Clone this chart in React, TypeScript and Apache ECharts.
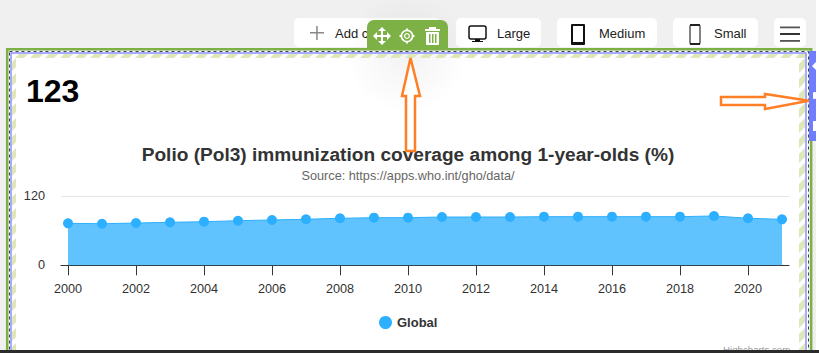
import React, { useEffect, useRef } from "react";
import * as echarts from "echarts";

const years = [2000, 2001, 2002, 2003, 2004, 2005, 2006, 2007, 2008, 2009, 2010, 2011, 2012, 2013, 2014, 2015, 2016, 2017, 2018, 2019, 2020, 2021];
const coverage = [72.7, 72, 73.2, 74.4, 75.5, 77.2, 78.5, 79.7, 81.4, 82.5, 82.5, 83.6, 83.6, 83.6, 84.2, 84.2, 84.2, 84.2, 84.2, 85.4, 81.4, 79.6];
const xTicks = [2000, 2002, 2004, 2006, 2008, 2010, 2012, 2014, 2016, 2018, 2020];
const seriesName = "Global";
const chartTitle = "Polio (Pol3) immunization coverage among 1-year-olds (%)";
const chartSubtitle = "Source: https://apps.who.int/gho/data/";
const FONT = '"Liberation Sans", Arial, sans-serif';

const rect = (x: number, y: number, width: number, height: number, fill: string, r = 0 as any, z = 1) => ({
  type: "rect", shape: { x, y, width, height, r }, style: { fill }, z, silent: true,
});
const frame = (x: number, y: number, width: number, height: number, stroke: string, lineWidth: number, lineDash?: number[], z = 2) => ({
  type: "rect", shape: { x, y, width, height }, style: { fill: "none", stroke, lineWidth, lineDash }, z, silent: true,
});
const poly = (points: number[][], fill: string, z = 5, stroke?: string, lineWidth = 0) => ({
  type: "polygon", shape: { points }, style: { fill, stroke, lineWidth }, z, silent: true,
});
const label = (text: string, x: number, y: number, fontSize: number, fill: string, fontWeight = "normal", z = 4) => ({
  type: "text", x, y, z, silent: true,
  style: { text, fontSize, fill, fontWeight, fontFamily: FONT, textVerticalAlign: "middle", textBaseline: "middle" },
});

function hatch() {
  const out: any[] = [];
  const colour = "#dde7b8";
  for (let x = 15; x < 800; x += 15) out.push(poly([[x, 58], [x + 4, 54], [x + 13, 54], [x + 9, 58]], colour, 2));
  for (let y = 58; y < 350; y += 15) {
    out.push(poly([[12, y + 4], [16, y], [16, y + 9], [12, y + 13]], colour, 2));
    out.push(poly([[799, y + 6], [805, y], [805, y + 9], [799, y + 15]], colour, 2));
  }
  return out;
}

function chrome() {
  const white = "#ffffff";
  const green = "#7db146";
  const purple = "#6f7dff";
  const orange = "#ff7f27";
  const dark = "#111111";
  const items: any[] = [
    rect(0, 0, 819, 353, "#f0f0f0", 0, 0),
    rect(294, 18, 146, 29, white, 5),
    rect(456, 18, 85, 29, white, 5),
    rect(557, 18, 100, 29, white, 5),
    rect(673, 18, 85, 29, white, 5),
    rect(774, 18, 32, 29, white, 5),
    rect(310, 32, 14, 1.5, "#888888", 0, 3),
    rect(316.2, 26, 1.5, 14, "#888888", 0, 3),
    label("Add c", 335, 33, 13, "#222222"),
    label("Large", 497, 33, 13, "#222222"),
    label("Medium", 599, 33, 13, "#222222"),
    label("Small", 714, 33, 13, "#222222"),
    // monitor
    { type: "rect", shape: { x: 469, y: 26, width: 17, height: 13, r: 2 }, style: { fill: white, stroke: dark, lineWidth: 1.5 }, z: 3, silent: true },
    rect(475, 39, 5, 2, dark, 0, 3),
    rect(472, 41, 11, 1, dark, 0, 3),
    // tablet
    rect(571, 24, 14, 21, dark, 1, 3),
    rect(573, 26, 10, 16, white, 0, 4),
    // phone
    { type: "rect", shape: { x: 690, y: 24.5, width: 10, height: 20, r: 2 }, style: { fill: white, stroke: "#333333", lineWidth: 1.2 }, z: 3, silent: true },
    rect(690, 24, 10, 2, "#222222", 0, 4),
    rect(690, 43, 10, 2, "#222222", 0, 4),
    // hamburger
    rect(780, 26.5, 20, 1.8, "#555555", 0, 3),
    rect(780, 33, 20, 2, "#333333", 0, 3),
    rect(780, 40, 20, 1.8, "#555555", 0, 3),
    // card and borders
    rect(9, 51, 799, 299, white, 0, 1),
    ...hatch(),
    frame(7.2, 49.2, 804, 320, green, 2.5),
    frame(9.5, 51.5, 799, 310, "#444444", 1, [3, 3]),
    frame(11, 53, 795, 310, "#8a8fff", 1.5),
    // hover shadow
    {
      type: "circle", shape: { cx: 407, cy: 52, r: 62 }, z: 1, silent: true,
      style: { fill: new echarts.graphic.RadialGradient(0.5, 0.5, 0.5, [{ offset: 0, color: "rgba(0,0,0,0.05)" }, { offset: 1, color: "rgba(0,0,0,0)" }]) },
    },
    // green toolbar
    rect(367, 20, 81, 28, green, [7, 7, 0, 0], 6),
    // move icon
    rect(375, 35, 14, 2, white, 0, 7),
    rect(381, 29, 2, 14, white, 0, 7),
    poly([[382, 27], [386, 31], [378, 31]], white, 7),
    poly([[382, 45], [386, 41], [378, 41]], white, 7),
    poly([[373, 36], [377, 32], [377, 40]], white, 7),
    poly([[391, 36], [387, 32], [387, 40]], white, 7),
    // gear icon
    { type: "circle", shape: { cx: 407, cy: 36, r: 5.6 }, style: { fill: "none", stroke: white, lineWidth: 1.6 }, z: 7, silent: true },
    { type: "circle", shape: { cx: 407, cy: 36, r: 2.4 }, style: { fill: "none", stroke: white, lineWidth: 1.2 }, z: 7, silent: true },
    rect(406, 28.5, 2, 2, white, 0, 7),
    rect(406, 41.5, 2, 2, white, 0, 7),
    rect(399.5, 35, 2, 2, white, 0, 7),
    rect(412.5, 35, 2, 2, white, 0, 7),
    // trash icon
    rect(425, 29, 15, 2, white, 0, 7),
    rect(429, 27, 7, 2, white, 0, 7),
    rect(426, 32, 13, 13, white, 1, 7),
    rect(429, 34, 1.5, 9, green, 0, 8),
    rect(432, 34, 1.5, 9, green, 0, 8),
    rect(435, 34, 1.5, 9, green, 0, 8),
    // purple side panel
    rect(809, 51, 7, 90, purple, 0, 6),
    poly([[812, 66], [816, 62], [816, 70]], white, 7),
    rect(813, 92, 3, 7, white, 1, 7),
    rect(813, 121, 3, 10, white, 0, 7),
    // orange arrows
    poly([[410.5, 58], [420, 96], [415, 96], [415, 151], [406, 151], [406, 96], [402, 96]], white, 20, orange, 2.5),
    poly([[721, 97], [765, 97], [765, 94], [809, 100.8], [765, 109], [765, 105], [721, 105]], white, 20, orange, 2.5),
    // heading and bottom
    label("123", 26, 91, 32, "#000000", "bold"),
    label("Highcharts.com", 723, 349, 9.7, "#999999", "normal", 4),
    rect(0, 350, 819, 3, "#2b2b2b", 0, 30),
    rect(816, 0, 3, 350, "#ffffff", 0, 30),
  ];
  return items;
}

export default function App() {
  const ref = useRef<HTMLDivElement>(null);
  useEffect(() => {
    document.body.style.margin = "0";
    const chart = echarts.init(ref.current!, null, { renderer: "svg" });
    chart.setOption({
      animation: false,
      textStyle: { fontFamily: FONT },
      graphic: { elements: chrome() },
      title: {
        text: chartTitle,
        subtext: chartSubtitle,
        left: 403,
        textAlign: "center",
        top: 140,
        itemGap: 5,
        textStyle: { fontSize: 19.1, fontWeight: "bold", color: "#333333", fontFamily: FONT },
        subtextStyle: { fontSize: 12.7, color: "#666666", fontFamily: FONT },
        z: 10,
      },
      legend: {
        data: [{ name: seriesName, icon: "circle", itemStyle: { color: "#2caffe" } }],
        left: 374,
        top: 311,
        itemWidth: 13,
        itemHeight: 13,
        itemGap: 5,
        selectedMode: false,
        textStyle: { fontSize: 13, fontWeight: "bold", color: "#333333", fontFamily: FONT },
      },
      grid: { left: 61, right: 30, top: 196, height: 69.3, containLabel: false },
      xAxis: {
        type: "value",
        z: 5,
        min: 1999.794,
        max: 2021.206,
        splitLine: { show: false },
        axisLine: { show: true, onZero: false, lineStyle: { color: "#333333", width: 1 } },
        axisTick: { show: true, length: 10, customValues: xTicks, lineStyle: { color: "#333333", width: 1 } },
        axisLabel: {
          customValues: xTicks,
          margin: 17,
          fontSize: 12.7,
          color: "#333333",
          fontFamily: FONT,
          formatter: (v: number) => String(v),
        },
      },
      yAxis: {
        type: "value",
        z: 5,
        min: 0,
        max: 120,
        interval: 120,
        axisLine: { show: false },
        axisTick: { show: false },
        splitLine: { lineStyle: { color: "#e6e6e6", width: 1 } },
        axisLabel: { margin: 16, fontSize: 12.7, color: "#333333", fontFamily: FONT, padding: [2, 0, 0, 0] },
      },
      series: [
        {
          name: seriesName,
          type: "line",
          z: 6,
          data: years.map((y, i) => [y, coverage[i]]),
          symbol: "circle",
          symbolSize: 10,
          lineStyle: { color: "#2caffe", width: 1 },
          itemStyle: { color: "#2caffe" },
          areaStyle: { color: "#2caffe", opacity: 0.75 },
        },
      ],
    });
    return () => chart.dispose();
  }, []);
  return <div ref={ref} style={{ width: 819, height: 353 }} />;
}
